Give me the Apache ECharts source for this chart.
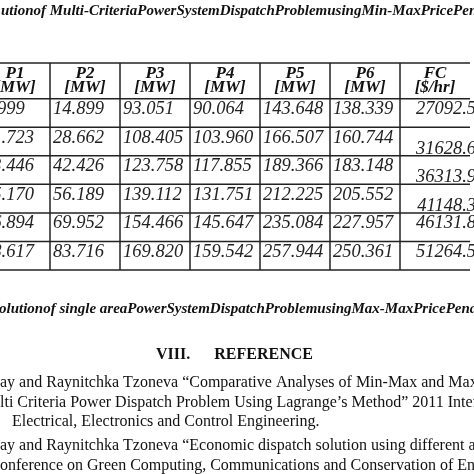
<!DOCTYPE html>
<html><head><meta charset="utf-8">
<script src="https://cdn.jsdelivr.net/npm/echarts@6/dist/echarts.min.js"></script>
<style>html,body{margin:0;padding:0;background:#fff}#c{width:474px;height:474px}</style>
</head><body><div id="c"></div>
<script>
// table data
var headers = ['P1', 'P2', 'P3', 'P4', 'P5', 'P6', 'FC'];
var units = ['[MW]', '[MW]', '[MW]', '[MW]', '[MW]', '[MW]', '[$/hr]'];
var p1 = ['9.999', '21.723', '33.446', '45.170', '56.894', '68.617'];
var p2 = ['14.899', '28.662', '42.426', '56.189', '69.952', '83.716'];
var p3 = ['93.051', '108.405', '123.758', '139.112', '154.466', '169.820'];
var p4 = ['90.064', '103.960', '117.855', '131.751', '145.647', '159.542'];
var p5 = ['143.648', '166.507', '189.366', '212.225', '235.084', '257.944'];
var p6 = ['138.339', '160.744', '183.148', '205.552', '227.957', '250.361'];
var fc = ['27092.5', '31628.6', '36313.9', '41148.3', '46131.8', '51264.5'];
var fcLow = [false, true, true, true, false, false];

var cols = [p1, p2, p3, p4, p5, p6, fc];
var cells = [];
for (var c = 0; c < cols.length; c++) {
    for (var r = 0; r < 7; r++) cells.push([c, r]);
}

var serif = '"Liberation Serif", "DejaVu Serif", serif';
var chart = echarts.init(document.getElementById('c'));

function renderCell(params, api) {
    var c = api.value(0), r = api.value(1);
    var top = r === 0 ? 0 : r + 0.25, bot = r + 1.25;
    var a = api.coord([c, top]), b = api.coord([c + 1, bot]);
    var x0 = a[0], y0 = a[1], w = b[0] - a[0], h = b[1] - a[1];
    var ls = { stroke: '#222', lineWidth: 1.5 };
    var kids = [
        { type: 'line', shape: { x1: x0, y1: y0 + h, x2: x0 + w, y2: y0 + h }, style: ls }
    ];
    if (c > 0) kids.push({ type: 'line', shape: { x1: x0, y1: y0, x2: x0, y2: y0 + h }, style: ls });
    if (r === 0) {
        kids.push({ type: 'line', shape: { x1: x0, y1: y0, x2: x0 + w, y2: y0 }, style: ls });
        kids.push({ type: 'text', style: { x: x0 + w / 2, y: y0 + 4, text: headers[c] + '\n' + units[c],
            font: 'italic bold 17px ' + serif, textAlign: 'center', lineHeight: 14, fill: '#111' } });
    } else {
        var txt = cols[c][r - 1];
        var tx = x0 + 3, ty = y0 + 1;
        if (c === 6) { tx = x0 + 76; ty = fcLow[r - 1] ? y0 + 12 : y0 + 1; }
        kids.push({ type: 'text', style: { x: tx, y: ty, text: txt, font: 'italic 18.5px ' + serif,
            textAlign: c === 6 ? 'right' : 'left', fill: '#222' } });
    }
    return { type: 'group', children: kids };
}

function line(y, x, text, font) {
    return { type: 'text', left: x, top: y, style: { text: text, font: font, fill: '#111' } };
}

chart.setOption({
    animation: false,
    grid: { left: 0, top: 63, width: 474, height: 207 },
    xAxis: { type: 'value', min: 20 / 70, max: 20 / 70 + 474 / 70, show: false },
    yAxis: { type: 'value', min: 0, max: 7.25, inverse: true, show: false },
    series: [{ type: 'custom', data: cells, renderItem: renderCell, clip: false }],
    graphic: [
        line(4, 1, 'utionof Multi-CriteriaPowerSystemDispatchProblemusingMin-MaxPricePenaltyFactor', 'italic bold 15px ' + serif),
        line(302, -1, 'olutionof single areaPowerSystemDispatchProblemusingMax-MaxPricePenaltyFactor', 'italic bold 15px ' + serif),
        line(347, 156, 'VIII.      REFERENCE', 'bold 16px ' + serif),
        line(375, 0, 'ay and Raynitchka Tzoneva \u201cComparative Analyses of Min-Max and Max-Max', '16px ' + serif),
        line(395, 0, 'lti Criteria Power Dispatch Problem Using Lagrange\u2019s Method\u201d 2011 International', '16px ' + serif),
        line(414, 12, 'Electrical, Electronics and Control Engineering.', '16px ' + serif),
        line(438, 0, 'ay and Raynitchka Tzoneva \u201cEconomic dispatch solution using different algorithms', '16px ' + serif),
        line(458, 0, 'onference on Green Computing, Communications and Conservation of Energy', '16px ' + serif)
    ]
});
</script></body></html>
